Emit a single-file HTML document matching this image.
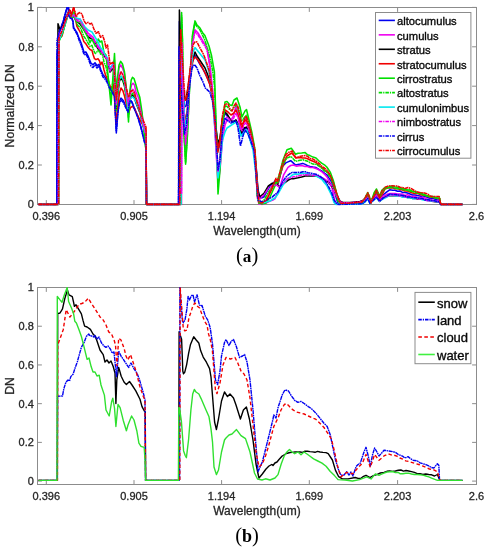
<!DOCTYPE html>
<html><head><meta charset="utf-8"><style>html,body{margin:0;padding:0;background:#fff}svg{display:block}</style></head>
<body>
<svg width="487" height="550" viewBox="0 0 487 550">
<style>
.tk{font-family:"Liberation Sans", Arial, sans-serif;font-size:11px;fill:#262626;stroke:#262626;stroke-width:0.3px}
.lb{font-family:"Liberation Sans", Arial, sans-serif;font-size:12px;fill:#262626;stroke:#262626;stroke-width:0.3px}
.lg{font-family:"Liberation Sans", Arial, sans-serif;fill:#0a0a0a;stroke:#0a0a0a;stroke-width:0.35px}
.tag{font-family:"Liberation Serif",serif;font-size:20.5px;fill:#000}
</style>
<rect width="487" height="550" fill="#fff"/>
<rect x="37.5" y="7.5" width="439.0" height="197.0" fill="none" stroke="#8c8c8c" stroke-width="1"/>
<line x1="46.3" y1="204.5" x2="46.3" y2="200.1" stroke="#8c8c8c"/>
<line x1="46.3" y1="7.5" x2="46.3" y2="11.9" stroke="#8c8c8c"/>
<line x1="134.0" y1="204.5" x2="134.0" y2="200.1" stroke="#8c8c8c"/>
<line x1="134.0" y1="7.5" x2="134.0" y2="11.9" stroke="#8c8c8c"/>
<line x1="221.6" y1="204.5" x2="221.6" y2="200.1" stroke="#8c8c8c"/>
<line x1="221.6" y1="7.5" x2="221.6" y2="11.9" stroke="#8c8c8c"/>
<line x1="309.3" y1="204.5" x2="309.3" y2="200.1" stroke="#8c8c8c"/>
<line x1="309.3" y1="7.5" x2="309.3" y2="11.9" stroke="#8c8c8c"/>
<line x1="397.6" y1="204.5" x2="397.6" y2="200.1" stroke="#8c8c8c"/>
<line x1="397.6" y1="7.5" x2="397.6" y2="11.9" stroke="#8c8c8c"/>
<line x1="37.5" y1="204.40" x2="41.9" y2="204.40" stroke="#8c8c8c"/>
<line x1="476.5" y1="204.40" x2="472.1" y2="204.40" stroke="#8c8c8c"/>
<text x="33.9" y="208.30" text-anchor="end" class="tk">0</text>
<line x1="37.5" y1="165.00" x2="41.9" y2="165.00" stroke="#8c8c8c"/>
<line x1="476.5" y1="165.00" x2="472.1" y2="165.00" stroke="#8c8c8c"/>
<text x="33.9" y="168.90" text-anchor="end" class="tk">0.2</text>
<line x1="37.5" y1="125.60" x2="41.9" y2="125.60" stroke="#8c8c8c"/>
<line x1="476.5" y1="125.60" x2="472.1" y2="125.60" stroke="#8c8c8c"/>
<text x="33.9" y="129.50" text-anchor="end" class="tk">0.4</text>
<line x1="37.5" y1="86.20" x2="41.9" y2="86.20" stroke="#8c8c8c"/>
<line x1="476.5" y1="86.20" x2="472.1" y2="86.20" stroke="#8c8c8c"/>
<text x="33.9" y="90.10" text-anchor="end" class="tk">0.6</text>
<line x1="37.5" y1="46.80" x2="41.9" y2="46.80" stroke="#8c8c8c"/>
<line x1="476.5" y1="46.80" x2="472.1" y2="46.80" stroke="#8c8c8c"/>
<text x="33.9" y="50.70" text-anchor="end" class="tk">0.8</text>
<line x1="37.5" y1="7.40" x2="41.9" y2="7.40" stroke="#8c8c8c"/>
<line x1="476.5" y1="7.40" x2="472.1" y2="7.40" stroke="#8c8c8c"/>
<text x="33.9" y="11.30" text-anchor="end" class="tk">1</text>
<text x="46.3" y="220.30" text-anchor="middle" class="tk">0.396</text>
<text x="134.0" y="220.30" text-anchor="middle" class="tk">0.905</text>
<text x="221.6" y="220.30" text-anchor="middle" class="tk">1.194</text>
<text x="309.3" y="220.30" text-anchor="middle" class="tk">1.699</text>
<text x="397.6" y="220.30" text-anchor="middle" class="tk">2.203</text>
<text x="476.5" y="220.30" text-anchor="middle" class="tk">2.6</text>
<text x="257" y="235.0" text-anchor="middle" class="lb">Wavelength(um)</text>
<text transform="translate(14.3,105.8) rotate(-90)" text-anchor="middle" class="lb" style="font-size:12.3px">Normalized DN</text>
<text x="247.1" y="261.6" text-anchor="middle" class="tag">(<tspan font-weight="bold" style="font-size:17.2px">a</tspan>)</text>
<rect x="37.5" y="287.5" width="439.0" height="197.0" fill="none" stroke="#8c8c8c" stroke-width="1"/>
<line x1="46.3" y1="484.5" x2="46.3" y2="480.1" stroke="#8c8c8c"/>
<line x1="46.3" y1="287.5" x2="46.3" y2="291.9" stroke="#8c8c8c"/>
<line x1="134.0" y1="484.5" x2="134.0" y2="480.1" stroke="#8c8c8c"/>
<line x1="134.0" y1="287.5" x2="134.0" y2="291.9" stroke="#8c8c8c"/>
<line x1="221.6" y1="484.5" x2="221.6" y2="480.1" stroke="#8c8c8c"/>
<line x1="221.6" y1="287.5" x2="221.6" y2="291.9" stroke="#8c8c8c"/>
<line x1="309.3" y1="484.5" x2="309.3" y2="480.1" stroke="#8c8c8c"/>
<line x1="309.3" y1="287.5" x2="309.3" y2="291.9" stroke="#8c8c8c"/>
<line x1="397.6" y1="484.5" x2="397.6" y2="480.1" stroke="#8c8c8c"/>
<line x1="397.6" y1="287.5" x2="397.6" y2="291.9" stroke="#8c8c8c"/>
<line x1="37.5" y1="481.10" x2="41.9" y2="481.10" stroke="#8c8c8c"/>
<line x1="476.5" y1="481.10" x2="472.1" y2="481.10" stroke="#8c8c8c"/>
<text x="33.9" y="485.00" text-anchor="end" class="tk">0</text>
<line x1="37.5" y1="442.38" x2="41.9" y2="442.38" stroke="#8c8c8c"/>
<line x1="476.5" y1="442.38" x2="472.1" y2="442.38" stroke="#8c8c8c"/>
<text x="33.9" y="446.28" text-anchor="end" class="tk">0.2</text>
<line x1="37.5" y1="403.66" x2="41.9" y2="403.66" stroke="#8c8c8c"/>
<line x1="476.5" y1="403.66" x2="472.1" y2="403.66" stroke="#8c8c8c"/>
<text x="33.9" y="407.56" text-anchor="end" class="tk">0.4</text>
<line x1="37.5" y1="364.94" x2="41.9" y2="364.94" stroke="#8c8c8c"/>
<line x1="476.5" y1="364.94" x2="472.1" y2="364.94" stroke="#8c8c8c"/>
<text x="33.9" y="368.84" text-anchor="end" class="tk">0.6</text>
<line x1="37.5" y1="326.22" x2="41.9" y2="326.22" stroke="#8c8c8c"/>
<line x1="476.5" y1="326.22" x2="472.1" y2="326.22" stroke="#8c8c8c"/>
<text x="33.9" y="330.12" text-anchor="end" class="tk">0.8</text>
<line x1="37.5" y1="287.50" x2="41.9" y2="287.50" stroke="#8c8c8c"/>
<line x1="476.5" y1="287.50" x2="472.1" y2="287.50" stroke="#8c8c8c"/>
<text x="33.9" y="291.40" text-anchor="end" class="tk">1</text>
<text x="46.3" y="500.30" text-anchor="middle" class="tk">0.396</text>
<text x="134.0" y="500.30" text-anchor="middle" class="tk">0.905</text>
<text x="221.6" y="500.30" text-anchor="middle" class="tk">1.194</text>
<text x="309.3" y="500.30" text-anchor="middle" class="tk">1.699</text>
<text x="397.6" y="500.30" text-anchor="middle" class="tk">2.203</text>
<text x="476.5" y="500.30" text-anchor="middle" class="tk">2.6</text>
<text x="257" y="514.9" text-anchor="middle" class="lb">Wavelength(um)</text>
<text transform="translate(14.3,385.9) rotate(-90)" text-anchor="middle" class="lb" style="font-size:12.3px">DN</text>
<text x="247.1" y="541.6" text-anchor="middle" class="tag">(<tspan font-weight="bold" style="font-size:18px">b</tspan>)</text>
<defs><clipPath id="ca"><rect x="37" y="7" width="440" height="198.6"/></clipPath><clipPath id="cb"><rect x="37" y="287" width="440" height="198.6"/></clipPath></defs>
<g fill="none" stroke-linejoin="round" stroke-linecap="butt" clip-path="url(#ca)">
<polyline points="38.5,204.4 56.8,204.4 57.0,53.2 57.6,51.3 58.0,50.0 58.4,48.7 58.8,34.4 59.7,31.3 60.0,30.6 62.0,25.3 63.0,22.6 65.0,15.1 66.0,11.6 67.0,8.2 68.0,7.9 68.5,7.9 68.7,15.3 70.0,17.4 72.0,18.6 73.0,21.5 73.6,27.5 74.0,28.1 75.2,29.9 76.0,31.2 77.0,32.7 78.9,37.9 80.0,40.4 81.3,43.5 84.1,52.4 85.0,52.2 85.9,51.9 86.0,52.1 88.0,55.8 88.1,56.0 90.0,60.7 91.0,63.2 92.0,64.0 92.2,64.1 93.0,64.8 95.0,62.8 97.0,65.8 97.6,65.3 98.0,65.0 99.0,64.3 100.0,67.2 100.9,69.8 101.0,70.1 103.0,74.8 105.0,77.1 106.0,78.5 107.0,80.0 108.0,82.6 109.0,85.2 110.0,86.9 111.0,88.1 113.0,91.6 113.5,92.2 114.5,94.6 116.3,130.7 118.0,109.9 119.5,101.1 121.0,98.1 121.2,98.3 123.0,100.2 124.5,103.2 126.5,107.9 128.0,111.9 128.5,108.6 129.5,102.0 130.0,101.0 130.5,100.3 132.0,102.1 132.5,103.3 134.0,107.2 134.5,108.4 136.0,112.1 138.0,117.1 140.0,123.7 141.0,127.0 144.7,142.0 146.0,144.1 146.5,204.4 178.5,204.4 179.0,164.9 179.4,21.5 180.0,37.3 180.5,49.7 181.0,60.6 181.5,71.6 182.0,82.5 183.0,92.3 184.5,107.0 185.0,106.7 186.0,106.1 186.5,103.4 187.0,99.6 188.0,92.0 189.0,82.8 190.0,75.2 191.0,67.6 192.0,63.3 193.0,60.5 194.4,56.6 195.0,55.3 197.0,59.0 199.8,64.0 201.0,66.0 203.0,69.2 205.0,72.8 205.3,73.6 209.0,81.3 209.8,84.3 212.0,93.8 212.5,97.8 215.0,119.7 215.3,122.1 218.0,150.5 220.0,143.5 222.5,121.0 225.0,113.5 227.0,115.5 228.0,117.0 230.0,119.8 231.0,120.8 233.0,121.9 234.0,121.2 236.0,120.2 238.0,125.0 240.5,135.1 241.0,135.8 243.0,131.2 244.0,129.2 245.0,128.2 247.0,128.4 248.0,130.8 250.0,136.1 251.0,139.2 253.0,145.6 254.0,151.2 256.0,167.2 256.5,173.4 258.0,192.5 259.8,198.1 262.0,197.8 264.0,196.7 266.0,193.1 268.4,188.9 269.5,186.9 270.0,186.4 271.6,184.8 274.9,181.4 275.0,181.5 276.0,182.1 278.0,183.5 278.2,183.6 279.3,179.1 282.5,166.2 283.6,165.1 285.8,162.9 286.9,162.4 288.0,161.9 290.7,160.7 292.4,162.2 293.4,163.1 295.6,165.1 298.0,164.6 300.4,164.1 302.8,163.4 305.2,164.4 307.6,165.7 310.0,166.4 313.0,167.1 316.0,167.6 319.0,169.5 322.0,171.2 324.4,173.0 326.8,174.8 329.2,178.4 331.6,182.0 332.8,186.0 334.0,190.0 335.2,194.0 336.0,196.8 336.4,198.2 337.6,202.4 339.0,204.4 340.0,204.3 343.0,204.2 350.0,203.7 360.0,203.1 362.0,203.0 364.0,201.0 365.0,200.0 367.7,196.5 370.0,203.0 374.0,198.0 376.5,194.0 379.6,200.0 383.0,195.0 386.5,192.2 390.0,189.7 392.5,190.2 395.0,190.3 397.5,191.2 400.0,191.0 402.5,192.4 405.0,192.5 407.5,193.1 410.0,194.0 412.5,194.9 415.0,195.0 417.5,195.6 420.0,196.0 422.5,197.2 425.0,196.6 427.5,197.3 430.0,198.5 433.5,198.6 437.0,200.0 439.5,200.0 440.7,204.4 462.6,204.4" stroke="#0000f0" stroke-width="1.55"/>
<polyline points="38.5,204.4 58.4,204.4 58.8,40.0 62.0,33.0 65.0,24.0 68.0,14.0 70.0,11.0 72.0,16.0 74.0,14.0 76.0,19.0 78.0,20.0 80.0,19.0 82.5,23.4 85.0,28.0 88.0,33.0 90.0,34.5 93.0,37.0 95.9,43.2 99.0,47.0 101.0,50.0 104.0,56.0 107.0,58.0 110.0,70.0 114.4,60.0 116.3,98.0 117.5,80.0 119.0,68.0 120.7,65.0 122.5,68.0 124.4,73.6 126.5,90.0 128.3,105.0 130.0,92.0 131.5,85.0 133.0,83.2 134.5,85.0 136.0,92.0 139.0,99.0 142.0,115.0 144.7,130.0 146.0,133.0 146.5,204.4 181.5,204.4 182.0,40.0 183.5,110.0 185.5,148.0 187.0,135.0 189.0,95.0 192.0,45.0 195.0,29.8 198.0,33.0 201.0,38.0 204.9,44.4 207.0,48.0 210.0,66.0 213.0,95.0 216.0,150.0 218.0,184.0 220.0,170.0 222.5,140.0 225.0,125.0 227.0,120.0 230.0,121.0 233.0,117.0 236.0,106.0 238.0,112.0 240.0,124.0 242.0,130.0 245.0,118.0 247.0,122.0 249.0,129.0 252.0,140.0 255.0,155.0 257.4,198.0 259.0,204.0 262.0,204.4 266.0,203.0 270.0,201.0 272.4,200.3 274.9,198.9 279.3,189.0 283.6,174.9 288.0,167.3 290.7,165.5 293.4,165.1 296.7,166.2 300.0,165.6 302.5,165.8 305.0,166.5 307.5,166.5 310.0,167.5 313.0,167.4 316.0,168.5 319.0,169.8 322.0,172.0 324.5,174.3 327.0,177.0 331.6,185.6 334.6,200.0 336.5,204.4 362.0,204.0 365.0,201.0 367.7,197.0 370.0,203.0 374.0,198.0 376.5,195.0 379.6,199.0 383.0,196.0 386.5,194.6 390.0,193.4 392.5,193.6 395.0,193.6 397.5,194.1 400.0,194.0 402.5,194.1 405.0,195.5 407.5,194.8 410.0,196.0 412.5,196.6 415.0,196.6 417.5,197.2 420.0,197.5 422.5,197.5 425.0,198.1 427.5,199.4 430.0,199.5 433.5,200.9 437.0,201.0 439.5,201.0 440.7,204.4 462.6,204.4" stroke="#f000f0" stroke-width="1.55"/>
<polyline points="38.5,204.4 57.6,204.4 58.0,23.7 60.0,30.0 63.0,24.0 66.0,17.0 68.5,12.0 70.0,12.0 72.0,17.0 74.0,16.0 76.0,21.0 80.0,24.0 83.0,28.4 86.0,33.0 88.1,36.8 90.0,38.0 92.2,39.0 95.0,43.0 97.6,48.2 100.0,51.0 103.0,54.0 106.0,58.0 108.0,62.0 110.0,72.0 113.5,68.0 116.3,110.0 118.0,92.0 119.5,81.0 121.0,78.0 123.0,81.0 124.5,86.0 126.5,97.0 128.5,108.0 130.5,98.0 132.5,95.0 134.5,98.0 136.0,103.0 140.0,113.0 144.7,132.0 146.0,135.0 146.5,204.4 179.0,204.4 179.4,10.1 180.5,40.0 182.0,75.0 184.5,98.0 186.0,99.0 188.0,88.0 191.0,65.0 195.0,52.0 197.0,56.0 201.0,62.0 205.0,68.0 209.0,78.0 212.0,92.0 215.0,120.0 218.0,144.0 220.0,138.0 222.5,118.0 225.0,112.0 227.0,114.0 230.0,119.0 233.0,122.0 236.0,120.0 238.0,124.0 241.0,133.0 244.0,128.0 247.0,127.0 250.0,135.0 253.0,145.0 256.0,165.0 258.0,190.0 259.8,196.9 264.0,193.4 268.4,185.8 271.6,183.6 276.0,182.5 279.3,186.9 283.6,183.6 288.0,180.3 290.7,178.8 293.4,178.7 298.0,177.8 301.6,177.0 305.2,176.0 307.9,175.9 310.6,175.9 313.3,175.8 316.0,176.0 318.8,176.8 321.6,178.6 324.4,179.6 326.8,181.1 329.2,183.2 332.8,188.0 336.4,194.0 340.0,201.2 343.0,202.4 350.0,202.5 360.0,201.5 364.0,200.0 367.7,198.0 370.0,201.4 374.0,199.0 376.5,197.0 379.6,201.4 383.0,198.0 386.5,196.4 390.0,195.5 392.5,195.8 395.0,195.8 397.5,195.4 400.0,196.0 402.5,196.4 405.0,196.3 407.5,197.5 410.0,197.5 412.5,198.4 415.0,198.2 417.5,199.1 420.0,199.0 422.5,198.9 425.0,200.0 427.5,199.9 430.0,201.0 433.5,201.4 437.0,202.0 439.5,202.0 440.7,204.4 462.6,204.4" stroke="#000000" stroke-width="1.55"/>
<polyline points="38.5,204.4 58.6,204.4 59.0,39.0 62.0,36.0 64.0,28.0 65.8,20.4 68.3,12.3 69.5,10.0 71.1,16.8 73.2,8.6 74.0,8.0 75.2,16.0 76.8,26.2 79.0,30.0 81.3,34.3 83.8,41.5 86.0,44.0 88.1,47.3 90.0,49.5 92.0,50.5 93.0,54.3 94.5,58.7 96.0,59.6 98.0,58.7 99.5,61.0 100.7,64.7 102.0,62.0 103.0,65.0 104.0,70.0 105.5,75.0 108.0,80.0 110.0,86.0 112.0,88.0 113.5,84.0 116.3,124.0 118.0,105.0 119.5,93.0 121.0,88.0 123.0,91.0 124.5,96.0 126.5,105.0 128.5,113.4 130.5,107.5 132.5,106.3 134.5,108.5 136.0,112.0 140.0,120.0 144.7,128.0 146.0,130.0 146.5,204.4 180.5,204.4 181.0,60.0 182.0,85.0 184.0,112.0 185.5,121.0 187.0,112.0 190.0,80.0 193.0,60.0 195.0,57.0 198.0,60.0 202.0,67.0 206.0,75.0 210.0,85.0 213.0,100.0 216.0,135.0 218.0,148.0 220.0,140.0 222.5,120.0 225.0,110.0 228.0,112.0 231.0,115.0 234.0,113.0 236.0,110.0 238.0,115.0 241.0,125.0 244.0,122.0 246.5,120.0 249.0,128.0 252.0,140.0 255.0,155.0 257.4,196.0 259.0,203.0 262.0,203.5 266.0,201.0 269.0,195.1 272.0,189.0 276.0,181.0 278.0,183.0 281.0,172.0 284.0,163.0 287.0,156.0 291.7,153.0 296.0,158.0 300.0,157.5 302.6,158.0 305.2,158.0 307.6,158.7 310.0,160.0 313.0,161.3 316.0,162.5 319.0,165.6 322.0,167.5 325.0,170.6 328.0,172.5 330.4,176.0 332.8,180.5 336.0,191.0 339.0,201.0 341.5,203.5 362.0,203.0 365.0,199.0 367.7,194.0 370.0,202.0 374.0,196.0 376.5,192.0 379.6,198.0 383.0,193.0 385.0,189.0 387.5,188.1 390.0,188.0 392.5,187.7 395.0,188.7 397.5,188.5 400.0,189.5 402.5,190.1 405.0,191.0 407.5,191.1 410.0,192.0 412.5,192.9 415.0,193.4 417.5,193.2 420.0,194.5 422.5,195.2 425.0,195.4 427.5,196.3 430.0,197.0 433.5,197.4 437.0,198.5 439.5,198.5 440.7,204.4 462.6,204.4" stroke="#f00000" stroke-width="1.55"/>
<polyline points="38.5,204.4 58.4,204.4 58.8,42.0 62.0,34.0 65.0,25.0 68.0,15.0 70.0,11.0 72.0,17.5 74.0,17.0 75.5,20.0 78.0,22.0 80.0,21.8 84.0,30.0 88.0,37.7 90.0,42.7 91.8,39.0 95.5,46.4 98.2,39.0 100.0,42.0 101.8,41.0 104.0,52.7 106.0,55.0 108.0,75.0 111.0,105.0 114.5,53.6 116.3,95.0 117.5,78.0 119.0,65.0 120.7,61.4 122.5,64.0 124.5,72.0 126.5,90.0 128.5,122.0 130.0,90.0 131.2,80.0 132.5,77.3 134.0,78.5 136.0,85.0 138.0,92.0 139.8,97.3 142.0,112.0 143.5,127.0 145.3,146.0 146.0,149.0 146.5,204.4 181.0,204.4 181.6,12.6 182.5,40.0 183.8,130.0 185.6,164.3 187.2,140.0 189.0,100.0 190.2,75.0 192.5,35.0 195.0,20.9 197.0,25.0 200.0,28.0 202.4,32.4 204.9,35.5 209.0,46.0 211.4,55.0 214.4,72.0 216.5,136.7 218.0,194.0 220.0,170.0 222.0,130.0 225.0,102.0 227.0,101.5 230.0,105.0 232.0,105.5 234.0,100.0 237.0,98.0 240.0,107.0 242.0,117.0 245.0,111.0 246.5,109.5 249.0,120.0 252.0,133.0 255.0,150.0 257.4,195.0 259.0,203.0 262.0,204.0 266.0,203.0 270.0,197.0 274.0,188.0 277.0,182.0 280.0,172.0 283.0,160.0 287.0,149.8 291.3,148.2 295.6,154.2 298.0,153.2 301.6,153.0 305.2,152.6 307.6,154.8 310.0,155.6 313.0,157.1 316.0,158.0 319.0,161.0 322.0,163.4 324.4,164.8 326.8,167.0 330.4,172.4 333.4,180.8 336.4,192.8 339.4,201.2 341.2,203.5 350.0,204.0 362.0,203.0 365.0,198.0 367.7,192.5 369.5,197.0 371.0,203.0 374.0,193.0 376.5,189.0 379.6,196.0 382.0,190.0 385.0,187.5 387.5,187.7 390.0,186.5 392.5,186.1 395.0,187.0 397.5,187.2 400.0,188.0 402.5,188.4 405.0,189.0 407.5,190.0 410.0,189.8 412.5,191.4 415.0,191.5 417.7,193.0 420.3,192.7 423.0,194.0 426.5,195.4 430.0,196.5 433.5,196.6 437.0,198.0 439.5,198.0 440.7,204.4 462.6,204.4" stroke="#00e000" stroke-width="1.55"/>
<polyline points="38.5,204.4 56.8,204.4 57.0,204.4 58.4,204.4 58.6,167.9 58.8,85.8 59.0,40.1 59.7,39.0 62.0,35.1 63.0,31.6 64.0,28.0 65.0,24.3 65.8,21.3 67.0,17.3 68.0,14.0 68.3,13.2 68.5,12.9 68.7,12.5 69.5,10.9 70.0,11.6 71.1,15.8 72.0,15.2 73.0,12.9 73.2,12.5 73.6,12.3 74.0,12.1 75.2,17.5 75.5,18.9 76.8,23.9 77.0,24.1 78.0,25.5 78.9,26.3 79.0,26.4 80.0,27.3 81.3,29.9 83.8,36.1 84.0,36.5 84.1,36.6 85.9,39.3 86.0,39.4 88.0,42.9 88.1,43.1 90.0,46.4 91.0,45.8 91.8,45.3 92.0,45.5 93.0,48.5 94.5,52.3 95.0,52.9 95.5,53.5 96.0,53.0 97.0,51.6 98.0,50.1 98.2,50.0 99.0,51.3 99.5,52.1 100.0,53.3 100.7,54.3 101.0,53.9 101.8,52.8 102.0,53.0 103.0,57.1 104.0,62.2 105.0,64.6 105.5,65.7 106.0,66.6 107.0,72.2 108.0,77.8 109.0,83.9 110.0,90.1 111.0,95.1 112.0,89.0 113.0,81.0 113.5,76.9 114.5,78.2 116.3,111.0 117.5,95.9 118.0,90.9 119.0,82.6 119.5,79.9 120.7,76.6 121.0,76.2 122.5,78.4 123.0,79.8 124.5,85.2 126.5,98.2 128.0,112.5 128.5,117.3 129.5,106.0 130.0,100.4 130.5,97.8 131.2,94.9 132.0,93.9 132.5,93.2 134.0,94.7 134.5,95.7 136.0,99.9 138.0,105.2 139.8,109.6 140.0,110.4 141.0,114.3 142.0,118.3 143.5,126.4 144.7,133.2 145.3,136.6 146.0,138.6 146.5,204.4 178.5,204.4 179.0,204.4 180.0,204.4 180.5,204.4 181.0,197.2 181.6,15.7 182.0,27.8 182.5,42.6 183.8,129.0 184.0,132.7 184.5,141.9 185.5,160.3 185.6,162.1 186.5,148.8 187.0,141.5 187.2,138.5 189.0,99.5 190.0,79.2 190.2,75.2 192.0,44.8 192.5,36.4 193.0,33.6 194.4,26.0 195.0,22.7 197.0,26.7 198.0,27.7 199.8,29.6 200.0,29.8 202.0,34.1 203.0,36.2 204.9,40.4 205.3,41.7 206.0,43.8 209.0,53.3 209.8,56.6 210.0,57.4 211.4,63.9 212.5,70.6 213.0,73.6 214.4,84.9 215.3,108.0 216.0,125.6 216.5,137.2 218.0,177.9 220.0,158.5 222.0,127.5 222.5,123.1 225.0,105.7 227.0,106.4 228.0,107.5 230.0,110.0 231.0,110.6 232.0,110.4 234.0,107.2 236.0,104.9 237.0,106.0 238.0,108.7 240.0,115.1 240.5,117.1 241.0,119.2 242.0,120.8 243.0,119.4 244.0,118.0 245.0,116.6 246.5,115.3 248.0,120.8 249.0,124.4 251.0,132.7 252.0,136.8 254.0,147.4 255.0,152.8 256.5,179.5 257.4,195.6 258.0,198.3 259.0,202.7 262.0,201.8 264.0,200.0 266.0,196.5 269.5,190.6 270.0,190.0 272.0,187.1 274.0,184.2 274.9,183.0 276.0,182.8 277.0,182.5 278.0,181.8 278.2,181.7 280.0,174.8 281.0,170.8 282.5,164.8 283.0,163.8 284.0,162.2 285.8,159.5 287.0,158.1 290.7,156.5 291.3,156.8 291.7,157.2 295.6,161.4 296.0,161.3 298.0,160.7 300.0,160.3 302.8,159.8 305.2,160.4 307.6,161.2 310.0,162.7 313.0,164.1 316.0,164.3 319.0,166.0 322.0,168.5 324.4,170.9 326.8,172.1 328.0,173.9 330.4,177.5 331.6,179.9 332.8,183.7 333.4,185.6 335.2,192.0 336.0,194.9 336.4,196.4 337.6,200.3 339.0,202.9 339.4,203.3 341.2,204.0 341.5,204.0 350.0,203.6 362.0,203.0 365.0,198.6 367.7,193.3 369.5,198.8 370.0,200.7 371.0,201.6 374.0,194.7 376.5,190.7 379.6,197.1 382.0,192.5 383.0,191.3 385.0,188.3 387.5,187.8 390.0,187.3 392.5,187.8 395.0,188.0 397.5,188.8 400.0,188.8 402.5,189.4 405.0,190.0 407.5,190.3 410.0,191.2 412.5,191.4 415.0,192.5 417.5,192.6 420.0,193.9 423.0,194.7 426.5,196.1 430.0,196.8 433.5,197.4 437.0,198.3 439.5,198.3 440.7,204.4 462.6,204.4" stroke="#00e000" stroke-width="1.55" stroke-dasharray="4,0.6,1.6,0.6"/>
<polyline points="38.5,204.4 58.4,204.4 58.8,41.0 62.0,33.0 65.0,24.0 68.0,14.0 70.0,11.0 72.0,16.0 74.0,15.0 76.0,18.0 80.0,19.0 82.5,23.6 85.0,27.0 88.0,30.0 90.0,31.0 92.0,32.0 95.0,37.0 98.0,42.0 100.9,48.2 103.0,50.0 105.0,55.0 107.0,57.0 110.0,68.0 113.5,64.0 116.3,104.0 118.0,86.0 119.5,79.0 121.2,76.4 123.0,79.0 124.5,82.0 126.5,95.0 128.0,108.7 130.0,99.0 132.5,96.8 134.5,99.0 136.0,102.0 140.0,112.0 144.7,131.0 146.0,134.0 146.5,204.4 181.0,204.4 181.5,45.0 183.0,90.0 185.0,126.0 187.0,118.0 190.0,80.0 193.0,52.0 195.0,47.6 197.0,50.0 201.0,55.0 205.0,60.0 209.0,72.0 212.0,92.0 215.0,130.0 218.0,178.0 220.0,165.0 222.5,140.0 225.0,132.0 227.0,128.0 230.0,126.0 233.0,124.0 236.0,122.0 238.0,125.0 241.0,136.0 244.0,133.0 247.0,130.0 250.0,140.0 253.0,150.0 256.0,175.0 258.0,200.0 262.0,203.0 266.0,202.0 270.0,201.0 272.5,199.3 275.0,198.0 278.0,194.0 282.5,185.8 286.9,179.3 289.6,177.5 292.4,174.9 295.2,173.9 298.0,174.2 301.6,173.3 305.2,173.5 307.9,174.3 310.6,174.8 313.3,175.3 316.0,176.0 319.0,177.5 322.0,179.5 324.4,182.7 326.8,185.6 329.2,190.3 331.6,195.2 334.0,202.4 336.0,204.4 362.0,204.0 365.0,202.0 367.7,199.0 370.0,203.5 374.0,200.0 376.5,198.0 379.6,201.5 383.0,199.0 386.5,197.4 390.0,195.2 392.5,195.4 395.0,195.7 397.5,196.0 400.0,196.0 402.5,197.2 405.0,197.0 407.5,197.8 410.0,197.5 412.5,198.5 415.0,198.8 417.5,198.0 420.0,199.0 422.4,199.7 424.9,200.3 427.3,200.6 429.7,201.0 432.1,201.2 434.6,201.0 437.0,202.0 439.5,202.0 440.7,204.4 462.6,204.4" stroke="#00e8f0" stroke-width="1.55"/>
<polyline points="38.5,204.4 57.6,204.4 58.0,114.0 58.4,114.7 58.8,33.1 60.0,33.7 62.0,29.5 63.0,27.0 65.0,21.7 66.0,18.8 68.0,13.5 68.5,12.6 70.0,11.5 72.0,16.5 74.0,15.0 76.0,20.0 78.0,21.2 80.0,21.5 82.5,25.0 85.0,29.8 86.0,31.3 88.0,34.8 88.1,34.9 90.0,36.2 92.2,37.7 93.0,38.6 95.0,42.1 95.9,44.0 97.6,46.7 99.0,48.4 100.0,49.8 101.0,51.0 103.0,54.0 104.0,55.7 106.0,57.7 107.0,59.0 108.0,62.0 110.0,71.0 113.5,65.0 114.4,70.8 116.3,104.0 117.5,88.6 118.0,84.0 119.0,76.3 119.5,74.1 120.7,71.8 121.0,71.8 122.5,74.1 123.0,75.2 124.4,79.6 124.5,80.2 126.5,93.5 128.3,106.0 128.5,105.7 130.0,96.2 130.5,93.8 131.5,90.8 132.5,89.4 133.0,89.5 134.5,91.5 136.0,97.5 139.0,104.8 140.0,108.7 142.0,118.0 144.7,131.0 146.0,134.0 146.5,204.4 179.0,204.4 179.4,188.9 180.5,191.2 181.5,193.1 182.0,42.8 183.5,108.3 184.5,126.5 185.5,144.1 186.0,140.1 187.0,131.7 188.0,112.8 189.0,93.8 191.0,61.9 192.0,46.3 195.0,31.6 197.0,33.9 198.0,35.0 201.0,39.9 204.9,46.3 205.0,46.4 207.0,50.0 209.0,61.4 210.0,67.3 212.0,86.2 213.0,96.0 215.0,129.1 216.0,144.5 218.0,171.8 220.0,158.5 222.5,130.5 225.0,118.5 227.0,117.0 230.0,120.0 233.0,119.5 236.0,113.0 238.0,118.0 240.0,127.0 241.0,130.0 242.0,130.7 244.0,125.0 245.0,122.8 247.0,124.5 249.0,130.7 250.0,133.8 252.0,140.8 253.0,145.0 255.0,156.7 256.0,169.0 257.4,190.2 258.0,195.1 259.0,198.0 259.8,199.4 262.0,196.5 264.0,194.9 266.0,191.9 268.4,188.2 270.0,187.1 271.6,186.1 274.9,185.2 276.0,184.6 279.3,187.2 283.6,182.3 288.0,178.3 290.7,177.9 293.4,176.7 296.7,176.3 298.0,176.0 300.0,175.5 302.5,175.0 305.0,174.6 305.2,174.6 307.6,175.0 310.0,174.7 313.0,175.5 316.0,174.9 319.0,176.3 322.0,177.6 324.4,178.8 327.0,180.9 329.2,182.9 331.6,186.3 332.8,188.5 334.6,192.4 336.4,195.5 336.5,195.7 340.0,201.7 343.0,202.7 350.0,202.8 360.0,201.9 362.0,201.2 364.0,200.3 365.0,199.7 367.7,197.8 370.0,201.6 374.0,198.8 376.5,196.7 379.6,201.0 383.0,197.7 386.5,196.4 390.0,195.2 392.5,194.7 395.0,195.1 397.5,195.6 400.0,195.7 402.5,196.3 405.0,196.9 407.5,196.7 410.0,197.3 412.5,197.0 415.0,197.7 417.5,199.0 420.0,198.8 422.5,198.9 425.0,199.7 427.5,200.9 430.0,200.8 433.5,200.6 437.0,201.8 439.5,201.8 440.7,204.4 462.6,204.4" stroke="#f000f0" stroke-width="1.55" stroke-dasharray="4,0.6,1.6,0.6"/>
<polyline points="38.5,204.4 56.8,204.4 57.0,40.0 58.4,35.2 58.8,33.8 59.7,30.7 62.0,24.6 63.0,22.0 65.0,14.3 67.0,7.4 68.0,7.4 68.5,7.4 68.7,15.5 70.0,18.0 72.0,18.8 73.0,22.0 73.6,28.6 74.0,29.2 75.2,31.0 76.0,32.3 77.0,34.0 78.9,39.6 80.0,42.3 81.3,45.5 84.1,54.7 85.0,54.4 85.9,54.0 88.0,58.0 90.0,63.3 91.0,66.0 92.0,66.8 93.0,67.5 95.0,65.0 97.0,68.0 98.0,67.0 99.0,66.0 100.9,71.7 101.0,72.0 103.0,77.0 105.0,79.0 107.0,82.0 109.0,87.0 110.0,88.5 111.0,90.0 113.0,94.0 113.5,94.7 114.5,96.0 116.3,133.0 118.0,112.0 119.5,103.0 121.0,100.0 121.2,100.2 123.0,102.0 124.5,105.0 126.5,109.0 128.0,112.2 129.5,102.0 130.0,101.2 130.5,100.4 132.0,102.5 132.5,103.9 134.0,108.0 134.5,109.2 136.0,113.0 138.0,118.0 140.0,124.7 141.0,128.0 144.7,143.0 146.0,145.0 146.5,204.4 178.5,204.4 179.0,46.3 180.0,70.0 181.0,87.5 181.5,96.2 182.0,105.0 183.0,116.6 184.5,134.0 185.0,131.8 186.5,125.0 187.0,118.0 189.0,90.0 190.0,82.7 192.0,68.0 193.0,66.5 194.4,64.5 195.0,65.3 197.0,68.0 199.8,75.5 201.0,77.9 203.0,82.0 205.0,87.2 205.3,88.0 209.0,91.3 209.8,92.0 212.0,99.3 212.5,101.0 215.0,118.9 215.3,121.0 218.0,170.0 220.0,160.0 222.5,130.0 225.0,118.0 227.0,120.0 228.0,121.0 230.0,122.3 231.0,123.0 233.0,121.7 234.0,121.0 236.0,121.0 238.0,128.0 240.5,146.0 241.0,144.0 243.0,136.0 244.0,133.0 245.0,130.0 247.0,132.7 248.0,134.0 250.0,139.3 251.0,142.0 253.0,147.3 254.0,150.0 256.0,174.0 256.5,180.0 258.0,200.0 262.0,202.0 264.0,201.3 266.0,200.2 269.5,198.3 270.0,198.1 272.4,196.9 274.9,194.7 275.0,194.7 278.0,191.9 278.2,191.6 282.5,181.9 285.8,177.3 286.9,175.9 290.7,173.1 292.4,172.4 295.6,172.6 298.0,172.3 300.4,172.6 302.8,171.7 305.2,171.7 307.6,172.8 310.0,173.0 313.0,173.7 316.0,174.3 319.0,175.7 322.0,177.8 324.4,180.0 326.8,183.4 329.2,187.9 331.6,192.6 334.0,199.9 335.2,201.7 336.0,202.9 337.6,204.0 339.0,204.4 362.0,203.8 365.0,201.6 367.7,198.5 370.0,203.4 374.0,199.6 376.5,197.2 379.6,201.2 383.0,198.2 386.5,196.0 390.0,194.1 392.5,194.4 395.0,194.5 397.5,194.9 400.0,195.0 402.5,195.6 405.0,196.1 407.5,196.9 410.0,196.9 412.5,197.6 415.0,197.8 417.5,197.9 420.0,198.4 422.5,198.6 425.0,200.0 427.5,199.6 430.0,200.3 433.5,200.6 437.0,201.6 439.5,201.6 440.7,204.4 462.6,204.4" stroke="#0000f0" stroke-width="1.55" stroke-dasharray="4,0.6,1.6,0.6"/>
<polyline points="38.5,204.4 58.6,204.4 59.0,38.0 62.0,31.0 65.0,22.0 68.0,14.0 70.0,9.5 71.2,16.0 73.5,7.5 75.0,12.0 76.2,17.0 78.0,13.5 80.0,12.5 82.0,14.0 84.0,21.0 86.0,23.6 88.0,22.3 90.0,24.0 91.8,23.2 93.6,28.2 95.9,33.2 98.6,31.8 100.5,37.3 102.7,35.5 104.5,40.9 106.0,48.0 107.5,45.0 110.0,64.0 113.5,62.0 116.3,100.0 117.5,88.0 119.5,76.0 121.2,72.0 123.0,75.0 124.5,80.0 126.5,89.0 128.5,96.8 130.5,91.5 132.5,90.3 134.5,93.0 137.0,102.0 141.0,115.0 144.7,124.0 146.0,127.0 146.5,204.4 179.9,204.4 180.3,60.0 180.8,29.8 182.0,55.0 184.0,85.0 185.3,101.0 187.0,95.0 190.0,70.0 193.0,45.0 195.0,41.8 197.0,42.0 200.0,48.0 202.5,52.3 205.0,58.0 209.0,70.0 211.6,88.0 214.0,110.0 216.5,140.0 218.0,152.0 220.0,140.0 222.5,115.0 225.0,104.0 228.0,104.0 230.0,109.0 232.0,111.0 234.0,106.0 236.0,103.0 238.0,107.0 240.0,115.0 242.0,127.0 243.5,122.0 246.0,116.0 249.0,124.0 252.0,137.0 255.0,150.0 257.4,190.0 259.0,202.0 262.0,203.0 266.2,200.0 269.4,192.9 272.7,185.8 276.0,178.2 277.6,181.4 280.4,170.5 283.0,162.0 285.8,154.4 289.0,152.2 292.4,151.1 295.6,157.7 298.9,156.6 302.0,156.0 305.2,155.4 307.6,156.4 310.0,158.4 313.0,159.1 316.0,160.9 319.0,163.3 322.0,166.4 324.4,168.0 326.8,169.9 330.4,175.4 333.4,183.4 336.4,193.0 339.4,201.2 341.2,203.5 350.0,203.0 362.0,202.0 365.0,198.0 367.7,192.8 369.5,197.0 371.0,203.0 374.0,195.0 376.5,190.3 379.6,196.5 382.0,191.0 385.2,187.2 387.9,186.1 390.7,185.8 395.0,186.0 397.5,186.0 400.0,187.2 402.5,187.6 405.0,188.5 408.0,187.5 411.4,188.7 414.9,190.9 417.8,192.1 420.6,192.8 423.5,192.8 426.9,193.7 430.2,195.9 432.7,196.4 435.1,196.4 437.6,196.5 439.2,196.5 440.7,204.4 462.6,204.4" stroke="#f00000" stroke-width="1.55" stroke-dasharray="4,0.6,1.6,0.6"/>
<line x1="38.5" y1="204.4" x2="57.6" y2="204.4" stroke="#f00000" stroke-width="1.6" stroke-dasharray="4,0.9,1.5,0.9"/>
<line x1="146.6" y1="204.4" x2="178.6" y2="204.4" stroke="#f00000" stroke-width="1.6" stroke-dasharray="4,0.9,1.5,0.9"/>
<line x1="440.8" y1="204.4" x2="462.6" y2="204.4" stroke="#f00000" stroke-width="1.6" stroke-dasharray="4,0.9,1.5,0.9"/>
</g>
<g fill="none" stroke-linejoin="round" stroke-linecap="butt" clip-path="url(#cb)">
<polyline points="38.5,480.4 57.4,480.4 57.7,313.6 60.0,313.0 62.5,308.9 64.9,298.2 67.4,290.0 69.0,294.9 72.3,296.6 73.6,302.3 74.4,306.4 76.0,304.8 78.9,309.7 81.4,313.8 83.0,320.4 84.6,326.1 87.1,327.0 90.4,329.4 93.0,334.0 95.0,336.0 97.0,341.0 100.0,350.0 103.2,354.6 105.0,362.0 107.0,360.0 109.0,363.0 111.0,361.0 113.2,366.5 115.0,373.0 115.9,403.5 116.8,380.0 118.7,367.4 121.2,376.3 124.0,382.0 126.4,384.6 129.5,381.5 132.0,385.0 135.8,390.9 140.0,399.3 142.0,406.6 144.2,410.8 145.2,412.0 145.7,480.4 178.8,480.4 179.1,331.7 181.6,339.3 182.2,354.6 182.8,371.0 183.5,373.7 184.7,372.4 186.6,364.8 188.6,353.3 190.5,344.4 193.7,336.8 196.2,340.0 198.8,343.0 200.7,350.8 203.2,357.1 206.4,362.2 209.6,368.6 211.0,377.0 214.6,422.0 216.4,429.6 218.5,419.0 221.5,401.0 224.5,392.0 227.5,396.6 230.0,394.0 233.5,398.0 236.0,405.0 240.4,419.0 243.4,410.0 246.4,407.0 249.4,419.0 253.0,440.0 256.0,464.0 258.5,476.0 259.0,478.0 262.3,474.0 266.0,469.0 269.0,466.0 271.7,464.5 273.0,465.5 274.9,463.0 277.0,462.0 279.0,459.5 282.2,456.0 286.4,453.5 290.0,452.5 292.5,452.4 295.0,451.9 297.5,452.0 300.0,452.0 302.5,452.4 305.0,451.1 307.5,451.2 310.0,451.6 312.5,451.9 315.0,452.3 317.5,451.4 320.0,452.0 323.0,452.4 326.0,452.6 328.2,453.7 332.4,460.0 335.5,470.4 338.7,476.7 342.3,478.9 348.0,478.9 355.2,477.5 358.1,478.4 361.0,478.2 363.5,476.3 366.0,475.3 370.0,477.5 373.4,475.6 376.8,474.6 380.4,473.0 384.0,472.4 386.9,471.3 389.7,471.0 392.6,471.4 395.4,471.0 398.3,470.3 400.9,470.0 403.5,471.1 406.0,470.5 408.6,471.0 411.5,471.6 414.4,472.4 417.2,473.7 420.0,473.8 422.9,474.5 425.8,474.0 428.7,474.5 431.6,474.8 434.5,476.0 437.4,474.5 439.5,479.6 440.0,480.4 462.6,480.4" stroke="#000000" stroke-width="1.4"/>
<polyline points="38.5,480.4 57.2,480.4 57.5,396.2 60.0,396.1 62.5,396.0 63.8,388.8 65.9,382.3 68.0,380.0 69.5,381.0 70.8,376.6 73.2,374.0 75.2,367.6 77.3,361.9 79.8,352.9 81.4,347.2 83.9,343.0 86.3,336.5 88.8,334.0 90.0,336.0 92.0,336.0 94.0,337.0 95.0,335.5 97.0,339.0 99.0,337.0 101.4,342.8 104.0,346.0 105.9,347.4 108.0,346.0 110.5,349.2 112.0,353.0 114.0,352.0 116.5,376.5 118.7,351.0 121.0,356.0 123.2,359.2 127.0,365.0 128.7,367.4 131.0,363.0 134.2,369.2 137.0,373.0 139.6,380.1 143.3,392.9 145.0,400.0 145.5,480.4 179.6,480.4 179.9,287.5 182.4,321.0 183.5,322.7 185.0,320.0 186.8,309.6 188.1,296.5 189.5,300.0 191.4,295.7 193.0,294.8 194.5,302.0 197.1,294.8 199.3,304.7 200.5,306.0 202.0,305.5 205.3,316.1 207.8,320.2 210.2,327.6 212.5,344.0 215.5,380.0 217.6,384.6 220.0,371.0 221.5,356.0 224.5,342.5 226.0,339.5 229.0,345.5 231.4,341.0 233.5,339.5 236.5,347.0 239.5,357.5 242.5,356.0 244.6,354.5 247.0,362.0 250.0,380.0 253.0,410.0 256.0,446.0 258.1,471.5 262.3,462.0 265.5,449.5 268.6,437.0 270.7,428.6 272.8,420.0 273.8,415.0 276.0,418.0 278.0,407.7 280.1,401.4 282.2,395.0 284.3,391.0 285.3,389.9 288.5,391.0 291.6,396.2 294.7,400.3 297.9,402.4 301.0,401.4 304.2,403.5 308.3,406.6 311.5,408.7 315.7,412.9 319.9,418.1 324.0,423.3 327.2,426.5 330.3,434.9 332.4,445.3 335.5,460.0 338.7,470.4 340.9,475.3 344.0,475.0 346.6,471.7 349.0,475.0 351.0,472.0 353.0,476.0 356.0,466.7 358.1,464.5 360.3,463.1 362.0,458.0 363.9,452.3 366.0,447.3 368.0,455.0 370.3,466.0 372.5,455.0 374.6,448.0 377.0,452.0 379.0,456.0 381.5,453.2 384.0,450.2 388.3,450.9 392.6,451.6 395.5,452.4 398.3,454.5 400.0,455.1 402.5,456.1 405.0,458.0 408.0,456.6 410.5,458.7 413.0,460.2 417.2,460.9 420.1,462.8 423.0,463.8 425.9,464.6 428.7,465.9 431.2,467.5 433.8,468.0 437.4,463.8 438.8,465.2 439.5,478.9 440.0,480.4 462.6,480.4" stroke="#0000f0" stroke-width="1.4" stroke-dasharray="4,0.6,1.6,0.6"/>
<polyline points="38.5,480.4 57.4,480.4 57.7,345.0 61.0,336.0 63.3,329.4 66.2,309.7 69.9,317.1 74.4,311.3 78.9,304.4 81.8,303.5 84.6,302.3 88.3,298.2 91.2,303.1 94.5,308.0 98.6,314.6 100.0,317.0 103.2,320.0 106.0,325.0 108.7,331.9 111.4,333.7 114.1,340.0 115.5,345.0 116.9,365.6 118.7,338.3 121.0,340.0 124.1,348.3 126.0,356.0 127.8,360.0 130.5,354.6 133.0,362.0 136.0,371.0 139.6,385.6 143.3,396.5 145.0,400.0 145.6,480.4 179.8,480.4 180.2,288.0 183.2,327.6 184.8,330.9 187.0,330.0 188.9,317.8 191.0,312.0 193.0,305.5 195.0,303.0 197.0,306.0 199.6,308.0 202.0,314.5 204.5,321.0 207.0,325.0 208.6,334.2 210.2,339.1 212.4,350.6 215.5,390.6 217.0,393.6 220.0,383.0 223.0,365.0 226.0,357.5 230.5,359.0 235.0,357.5 238.0,363.5 241.0,371.0 244.0,374.0 247.0,380.0 250.0,398.0 253.0,425.0 256.0,452.0 259.0,467.0 262.3,464.0 265.5,456.0 268.6,446.0 271.0,437.0 273.8,426.5 276.0,422.0 278.0,418.1 281.0,410.0 284.3,404.5 286.4,403.5 289.5,406.6 292.7,409.7 295.8,411.8 300.0,412.9 304.2,414.0 308.3,416.0 312.5,418.1 315.7,419.2 319.9,423.3 324.0,427.5 328.2,433.8 331.4,439.0 334.5,451.6 337.6,466.2 340.9,476.8 343.8,474.8 346.6,472.4 349.5,472.9 352.4,473.9 355.2,471.0 358.1,467.4 362.4,463.1 366.0,454.5 370.3,467.4 374.6,454.5 379.0,460.2 381.5,458.2 384.0,455.9 388.3,453.8 391.1,454.9 394.0,455.2 396.9,456.1 399.8,458.0 402.8,459.2 405.7,460.9 408.6,461.4 411.5,462.3 415.1,463.4 418.7,464.5 422.3,465.9 425.9,467.4 429.4,469.0 433.0,469.5 437.4,471.7 439.5,478.9 440.0,480.4 462.6,480.4" stroke="#f00000" stroke-width="1.4" stroke-dasharray="3.6,2.4"/>
<polyline points="38.5,480.4 57.0,480.4 57.3,296.4 60.0,299.9 62.0,302.3 64.3,295.0 67.2,287.5 68.6,301.5 71.5,308.0 73.6,313.8 74.8,321.2 76.4,322.9 78.9,329.4 81.4,336.5 83.9,346.3 87.1,359.4 89.0,358.0 91.2,366.8 93.0,372.0 95.0,372.0 97.0,376.0 99.2,375.2 101.0,385.0 104.4,395.1 106.0,410.0 109.2,416.0 111.7,401.4 112.8,398.2 114.5,408.0 115.9,426.5 118.0,404.5 120.1,407.7 123.2,420.2 126.4,430.7 128.0,425.0 131.6,416.0 134.0,420.0 136.8,430.7 138.9,443.2 141.0,446.4 144.2,447.4 145.0,460.0 145.6,480.4 178.4,480.4 178.8,407.7 179.5,407.7 181.4,421.4 183.6,450.9 185.2,455.5 186.4,457.7 188.6,439.5 190.9,410.0 192.7,394.0 194.3,389.5 196.0,392.0 198.9,394.0 201.1,398.6 204.5,406.6 206.0,410.0 209.0,416.8 210.9,428.2 212.5,441.8 214.0,467.0 216.4,474.6 218.5,470.0 221.5,452.0 224.5,440.0 226.0,438.0 229.0,435.0 232.0,434.0 236.5,429.6 241.0,435.6 245.5,438.6 250.0,452.0 254.5,473.0 257.5,479.0 262.0,480.0 265.5,478.8 270.0,480.0 275.0,478.0 278.0,474.6 281.2,464.0 284.3,455.8 286.4,452.6 289.5,449.5 292.0,452.0 294.7,453.7 298.0,452.0 301.0,454.7 304.0,452.0 307.0,454.0 309.4,455.8 313.6,458.9 317.8,461.0 322.0,463.1 326.1,466.2 330.3,471.5 334.5,475.6 338.0,479.6 345.0,480.0 352.4,481.0 359.6,479.6 366.7,476.8 371.0,479.0 375.4,473.9 379.0,475.3 381.5,474.2 384.0,473.2 386.9,472.0 389.7,471.7 392.6,471.5 395.4,472.6 398.3,472.4 400.0,473.8 402.9,473.7 405.7,473.3 408.6,473.1 411.5,474.0 414.3,474.5 417.2,474.5 420.1,474.7 423.0,475.1 425.9,476.0 428.8,476.9 431.6,478.1 437.4,480.3 438.0,480.4 462.6,480.4" stroke="#30e030" stroke-width="1.4"/>
</g>
<rect x="375.5" y="12.5" width="95.4" height="145.7" fill="#fff" stroke="#8c8c8c" stroke-width="1"/>
<line x1="378.7" y1="20.40" x2="394.9" y2="20.40" stroke="#0000f0" stroke-width="1.6"/>
<text x="397" y="25.22" style="font-size:11.2px" class="lg">altocumulus</text>
<line x1="378.7" y1="34.85" x2="394.9" y2="34.85" stroke="#f000f0" stroke-width="1.6"/>
<text x="397" y="39.67" style="font-size:11.2px" class="lg">cumulus</text>
<line x1="378.7" y1="49.30" x2="394.9" y2="49.30" stroke="#000000" stroke-width="1.6"/>
<text x="397" y="54.12" style="font-size:11.2px" class="lg">stratus</text>
<line x1="378.7" y1="63.75" x2="394.9" y2="63.75" stroke="#f00000" stroke-width="1.6"/>
<text x="397" y="68.57" style="font-size:11.2px" class="lg">stratocumulus</text>
<line x1="378.7" y1="78.20" x2="394.9" y2="78.20" stroke="#00e000" stroke-width="1.6"/>
<text x="397" y="83.02" style="font-size:11.2px" class="lg">cirrostratus</text>
<line x1="378.7" y1="92.65" x2="394.9" y2="92.65" stroke="#00e000" stroke-width="1.6" stroke-dasharray="3.5,1,1.2,1"/>
<text x="397" y="97.47" style="font-size:11.2px" class="lg">altostratus</text>
<line x1="378.7" y1="107.10" x2="394.9" y2="107.10" stroke="#00e8f0" stroke-width="1.6"/>
<text x="397" y="111.92" style="font-size:11.2px" class="lg">cumulonimbus</text>
<line x1="378.7" y1="121.55" x2="394.9" y2="121.55" stroke="#f000f0" stroke-width="1.6" stroke-dasharray="3.5,1,1.2,1"/>
<text x="397" y="126.37" style="font-size:11.2px" class="lg">nimbostratus</text>
<line x1="378.7" y1="136.00" x2="394.9" y2="136.00" stroke="#0000f0" stroke-width="1.6" stroke-dasharray="3.5,1,1.2,1"/>
<text x="397" y="140.82" style="font-size:11.2px" class="lg">cirrus</text>
<line x1="378.7" y1="150.45" x2="394.9" y2="150.45" stroke="#f00000" stroke-width="1.6" stroke-dasharray="3.5,1,1.2,1"/>
<text x="397" y="155.27" style="font-size:11.2px" class="lg">cirrocumulus</text>
<rect x="415" y="292.4" width="55.9" height="71.3" fill="#fff" stroke="#8c8c8c" stroke-width="1"/>
<line x1="418.3" y1="302.20" x2="434.8" y2="302.20" stroke="#000000" stroke-width="1.6"/>
<text x="437" y="307.53" style="font-size:13px" class="lg">snow</text>
<line x1="418.3" y1="319.63" x2="434.8" y2="319.63" stroke="#0000f0" stroke-width="1.6" stroke-dasharray="3.5,1,1.2,1"/>
<text x="437" y="324.96" style="font-size:13px" class="lg">land</text>
<line x1="418.3" y1="337.06" x2="434.8" y2="337.06" stroke="#f00000" stroke-width="1.6" stroke-dasharray="3.6,2.4"/>
<text x="437" y="342.39" style="font-size:13px" class="lg">cloud</text>
<line x1="418.3" y1="354.49" x2="434.8" y2="354.49" stroke="#40f040" stroke-width="1.6"/>
<text x="437" y="359.82" style="font-size:13px" class="lg">water</text>
</svg>
</body></html>
